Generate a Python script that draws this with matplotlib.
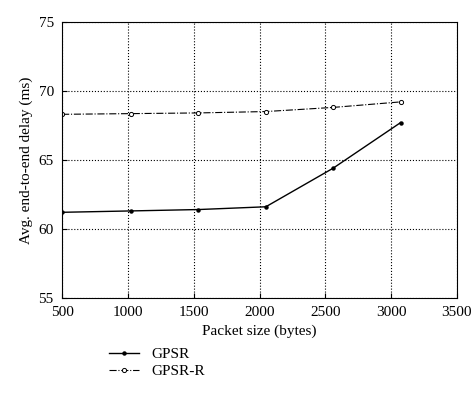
import matplotlib
matplotlib.use("Agg")
import matplotlib.pyplot as plt

plt.rcParams['font.family'] = ['Liberation Serif', 'DejaVu Serif']

packet_size = [500, 1024, 1536, 2048, 2560, 3072]
gpsr = [61.2, 61.3, 61.4, 61.6, 64.4, 67.7]
gpsr_r = [68.3, 68.35, 68.4, 68.5, 68.8, 69.2]
xticks = [500, 1000, 1500, 2000, 2500, 3000, 3500]
yticks = [55, 60, 65, 70, 75]

fig = plt.figure(figsize=(4.74, 4.12), dpi=100)
ax = fig.add_axes([0.131, 0.277, 0.833, 0.67])
ax.plot(packet_size, gpsr, '-', color='black', lw=1, marker='o', ms=2.2, label='GPSR')
ax.plot(packet_size, gpsr_r, '-.', color='black', lw=0.8, marker='o', ms=3,
        mfc='white', mew=0.7, label='GPSR-R')
ax.set_xlim(500, 3500)
ax.set_ylim(55, 75)
ax.set_xticks(xticks)
ax.set_yticks(yticks)
ax.grid(True, linestyle=':', color='black', lw=0.8)
ax.tick_params(direction='in', labelsize=11, pad=6)
ax.set_xlabel('Packet size (bytes)', fontsize=11)
ax.set_ylabel('Avg. end-to-end delay (ms)', fontsize=11)
h, l = ax.get_legend_handles_labels()
fig.legend(h, l, loc='upper left', bbox_to_anchor=(0.2, 0.19), frameon=False,
           fontsize=11, handlelength=2, labelspacing=0.2)
fig.savefig('out.png', dpi=100)
